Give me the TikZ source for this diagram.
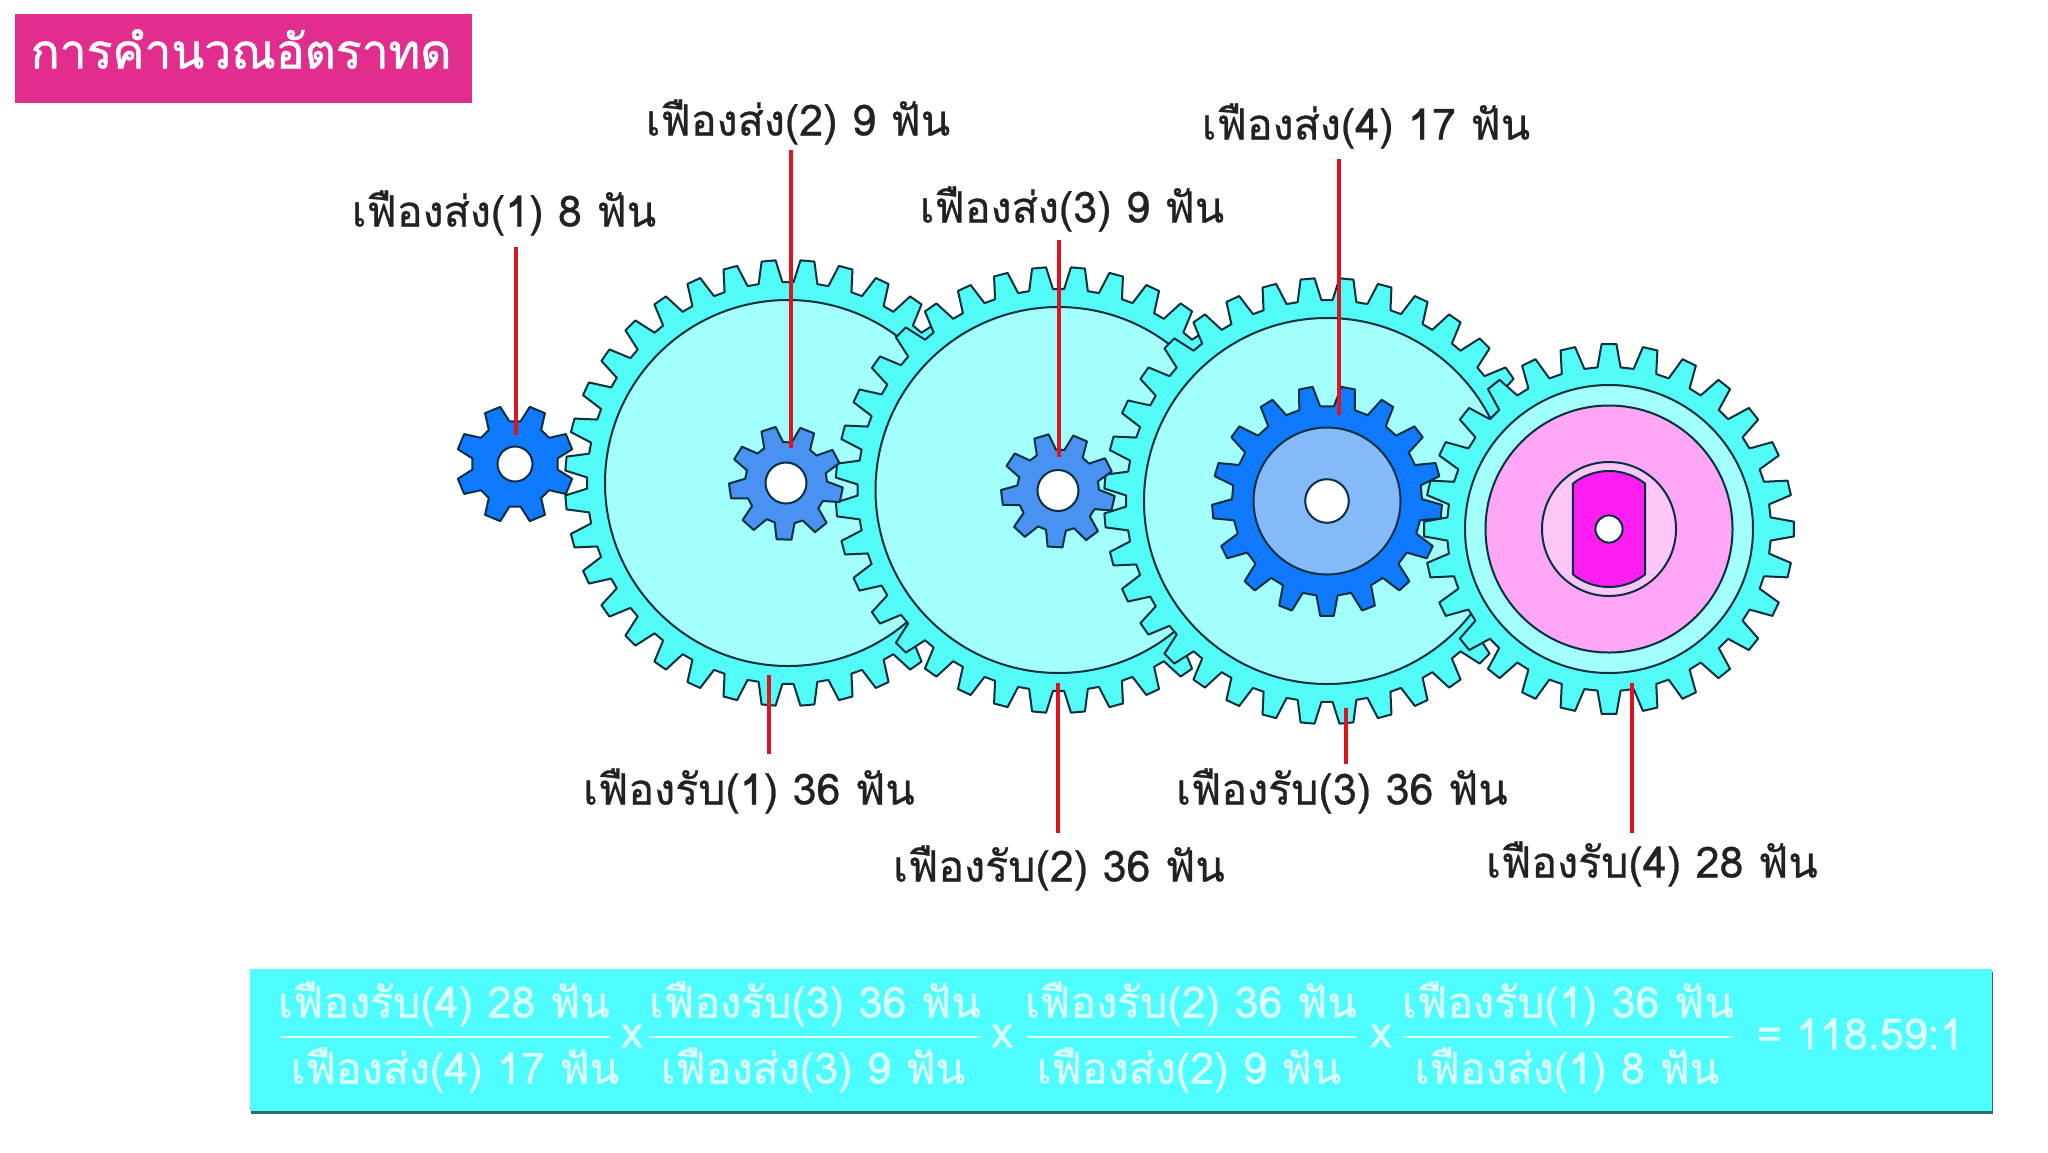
\documentclass[tikz,border=0pt]{standalone}
\usepackage{fontspec}
\newfontfamily\thaifont[Script=Thai,FakeBold=0.6]{Loma}
\newfontfamily\thaititle[Script=Thai,FakeBold=1.2]{Loma}
\definecolor{gearout}{HTML}{52FBF5}
\definecolor{geardisc}{HTML}{A2FFFC}
\definecolor{gearline}{HTML}{06303F}
\definecolor{cogA}{HTML}{0F7AFF}
\definecolor{cogB}{HTML}{4A92F2}
\definecolor{cogC}{HTML}{84B9FA}
\definecolor{pinkA}{HTML}{FFA6F6}
\definecolor{pinkB}{HTML}{FFC6F8}
\definecolor{magA}{HTML}{FF1EF2}
\definecolor{leader}{HTML}{DB1420}
\definecolor{titlebg}{HTML}{E02D8E}
\definecolor{formbg}{HTML}{4DFDFF}
\definecolor{formtx}{HTML}{DDFFFF}
\definecolor{lbltx}{HTML}{222222}
\definecolor{boxshade}{HTML}{2F6B70}
\newcommand{\cogoutline}[7]{%
  \draw[#7] (#6-#5:#3) \foreach \k in {1,...,#1}{
    -- ({#6+(\k-1)*360/#1-#5}:#3)
    -- ({#6+(\k-1)*360/#1-#4}:#2)
    -- ({#6+(\k-1)*360/#1+#4}:#2)
    -- ({#6+(\k-1)*360/#1+#5}:#3)
  } -- cycle;}
\newcommand{\bigwheel}[3]{%
  \begin{scope}[shift={(#1,#2)}]
    \cogoutline{36}{223}{201}{1.8}{3.4}{5}{part,fill=gearout}
    \draw[part,fill=geardisc] (0,0) circle[radius=183];
  \end{scope}}
\tikzset{
  x=1pt,y=-1pt,
  part/.style={draw=gearline,line width=2pt,line join=round},
  hole/.style={part,fill=white},
  lbl/.style={font=\thaifont\fontsize{43}{43}\selectfont,text=lbltx,inner sep=0pt},
  frm/.style={font=\thaifont\fontsize{43}{43}\selectfont,text=formtx,inner sep=0pt},
  leaderline/.style={draw=leader,line width=4pt},
  fracrule/.style={draw=formtx,line width=2pt},
}
\begin{document}
\begin{tikzpicture}
\useasboundingbox (0,0) rectangle (2048,1152);
\fill[white] (0,0) rectangle (2048,1152);
% title
\node[fill=titlebg,minimum width=457pt,minimum height=89pt,inner sep=0pt,anchor=north west] (titlebox) at (15,14) {};
\node[font=\thaititle\fontsize{48}{48}\selectfont,text=white,inner sep=0pt] (title) at (241,49) {การคำนวณอัตราทด};
% receiving gears
\bigwheel{788}{483}{r1}
\bigwheel{1058.5}{490}{r2}
\bigwheel{1327}{501}{r3}
\begin{scope}[shift={(1609,529)}]
  \cogoutline{28}{185}{162}{2.3}{4.1}{0}{part,fill=gearout}
  \draw[part,fill=geardisc] (0,0) circle[radius=144];
  \draw[part,fill=pinkA] (0,0) circle[radius=123.5];
  \draw[part,fill=pinkB] (0,0) circle[radius=67];
  \draw[part,fill=magA] (51.6:58) arc[start angle=51.6,end angle=128.4,radius=58]
     -- (231.6:58) arc[start angle=231.6,end angle=308.4,radius=58] -- cycle;
  \draw[hole] (0,0) circle[radius=13.6];
\end{scope}
% driving gears
\begin{scope}[shift={(515,464)}]
  \cogoutline{8}{59}{43}{8}{15}{22.5}{part,fill=cogA}
  \draw[hole] (0,0) circle[radius=17.5];
\end{scope}
\begin{scope}[shift={(786,483)}]
  \cogoutline{9}{57}{41}{7.5}{14}{92}{part,fill=cogB}
  \draw[hole] (0,0) circle[radius=20.5];
\end{scope}
\begin{scope}[shift={(1058,490.5)}]
  \cogoutline{9}{57}{41}{7.5}{14}{93}{part,fill=cogB}
  \draw[hole] (0,0) circle[radius=20.5];
\end{scope}
\begin{scope}[shift={(1327,501)}]
  \cogoutline{17}{115}{95}{3.4}{6.4}{90}{part,fill=cogA}
  \draw[part,fill=cogC] (0,0) circle[radius=73.5];
  \draw[hole] (0,0) circle[radius=21.8];
\end{scope}
% labels
\node[lbl] (d1) at (504,213) {เฟืองส่ง(1) 8 ฟัน};
\node[lbl] (d2) at (798,122) {เฟืองส่ง(2) 9 ฟัน};
\node[lbl] (d3) at (1072,209) {เฟืองส่ง(3) 9 ฟัน};
\node[lbl] (d4) at (1366,126) {เฟืองส่ง(4) 17 ฟัน};
\node[lbl] (r1) at (749,791) {เฟืองรับ(1) 36 ฟัน};
\node[lbl] (r2) at (1059,868) {เฟืองรับ(2) 36 ฟัน};
\node[lbl] (r3) at (1342,791) {เฟืองรับ(3) 36 ฟัน};
\node[lbl] (r4) at (1652,864) {เฟืองรับ(4) 28 ฟัน};
% leader ends
\coordinate (dt1) at (516,247);  \coordinate (de1) at (516,435);
\coordinate (dt2) at (791,150);  \coordinate (de2) at (791,448);
\coordinate (dt3) at (1059,240); \coordinate (de3) at (1059,457);
\coordinate (dt4) at (1339,159); \coordinate (de4) at (1339,415);
\coordinate (rt1) at (769,754);  \coordinate (re1) at (769,675);
\coordinate (rt2) at (1058,833); \coordinate (re2) at (1058,683);
\coordinate (rt3) at (1346,764); \coordinate (re3) at (1346,708);
\coordinate (rt4) at (1632,833); \coordinate (re4) at (1632,683);
\foreach \a/\b in {dt1/de1,dt2/de2,dt3/de3,dt4/de4,rt1/re1,rt2/re2,rt3/re3,rt4/re4}
  \draw[leaderline] (\a) -- (\b);
% formula
\fill[boxshade] (251,972) rectangle (1993,1114);
\node[fill=formbg,minimum width=1742pt,minimum height=142pt,inner sep=0pt,anchor=north west] (box) at (250,969) {};
\node[frm] (n4) at (444,1004) {เฟืองรับ(4) 28 ฟัน};
\node[frm] (s4) at (455,1070) {เฟืองส่ง(4) 17 ฟัน};
\node[frm] (n3) at (815,1004) {เฟืองรับ(3) 36 ฟัน};
\node[frm] (s3) at (813,1070) {เฟืองส่ง(3) 9 ฟัน};
\node[frm] (n2) at (1191,1004) {เฟืองรับ(2) 36 ฟัน};
\node[frm] (s2) at (1189,1070) {เฟืองส่ง(2) 9 ฟัน};
\node[frm] (n1) at (1568,1004) {เฟืองรับ(1) 36 ฟัน};
\node[frm] (s1) at (1567,1070) {เฟืองส่ง(1) 8 ฟัน};
\draw[fracrule] (280,1037) -- (610,1037);
\draw[fracrule] (649,1037) -- (981,1037);
\draw[fracrule] (1027,1037) -- (1356,1037);
\draw[fracrule] (1403,1037) -- (1733,1037);
\node[frm] (x1) at (632,1036) {x};
\node[frm] (x2) at (1002,1036) {x};
\node[frm] (x3) at (1381,1036) {x};
\node[frm] (res) at (1860,1034) {= 118.59:1};
\end{tikzpicture}
\end{document}
